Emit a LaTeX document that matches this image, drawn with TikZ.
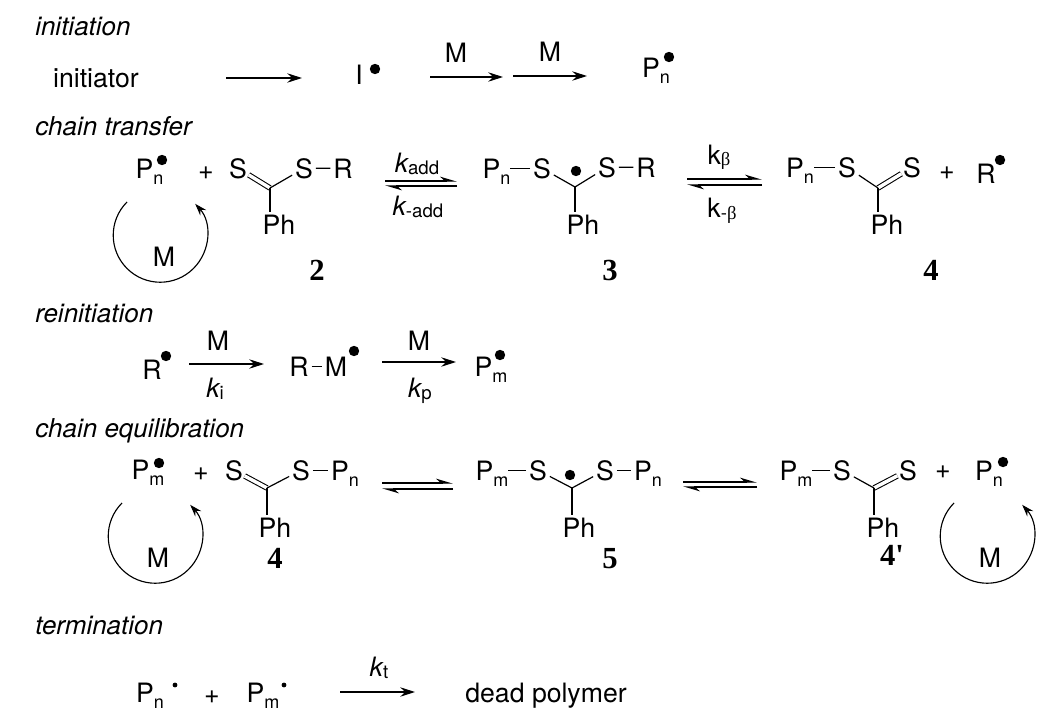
\documentclass[tikz,border=0pt]{standalone}
\usepackage{fontspec}
\setmainfont{TeX Gyre Heros}
\newfontfamily\numfont{Liberation Serif}
\usetikzlibrary{arrows.meta}
\newcommand{\subs}[1]{\raisebox{-4.5pt}{\fontsize{13.5pt}{13.5pt}\selectfont #1}}
\newcommand{\rsub}[1]{\raisebox{-1.5pt}{\fontsize{14pt}{14pt}\selectfont #1}}
\begin{document}
\begin{tikzpicture}[x=.75pt,y=-.75pt,
    every node/.style={font=\fontsize{20pt}{20pt}\selectfont,inner sep=2pt,anchor=base},
    lbl/.style={font=\fontsize{19.5pt}{19.5pt}\selectfont\itshape,anchor=base west,inner sep=0pt},
    num/.style={font=\fontsize{23pt}{23pt}\selectfont\numfont\bfseries},
    rad/.style={circle,fill,anchor=center,inner sep=0pt,minimum size=7.8pt},
    srad/.style={circle,fill,anchor=center,inner sep=0pt,minimum size=3.6pt},
    bond/.style={line width=.9pt},
    pbond/.style={bond,shorten >=-2.5pt},
    dbl/.style={double,double distance=2.6pt,line width=.8pt,shorten <=-1pt},
    rxn/.style={line width=1pt,-{Stealth[length=11pt,width=7pt]}},
    eq/.style={line width=1pt,-{Stealth[harpoon,length=11pt,width=6.5pt]}},
    cyc/.style={line width=.85pt,-{Stealth[length=9pt,width=6pt]}}]
    \useasboundingbox (0,0) rectangle (1043,724);
    % section titles
    \node (t1) at (35,36) [lbl] {initiation};
    \node (t2) at (35,136) [lbl] {chain transfer};
    \node (t3) at (35,322) [lbl] {reinitiation};
    \node (t4) at (35,437) [lbl] {chain equilibration};
    \node (t5) at (35,634) [lbl] {termination};
    % initiation
    \node (ini) at (96,88) {initiator}; \node (i) at (359,85) {I};
    \node (id) at (375,69) [rad] {};
    \node (m1) at (456,63) {M}; \node (m2) at (550,62) {M};
    \node (p1) at (656,78) {P\subs{n}}; \node (p1d) at (669,57) [rad] {};
    \coordinate (a1) at (226,78); \coordinate (a2) at (302,78);
    \coordinate (a3) at (430,77); \coordinate (a4) at (503,77);
    \coordinate (a5) at (513,76); \coordinate (a6) at (587,76);
    \draw[rxn] (a1) -- (a2); \draw[rxn] (a3) -- (a4); \draw[rxn] (a5) -- (a6);
    % chain transfer
    \node (p2) at (149.5,178) {P\subs{n}}; \node (p2d) at (162,160) [rad] {};
    \node (pl1) at (206,180) {+};
    \node (s1) at (238,178) {S}; \node (s2) at (304,178) {S};
    \node (r1) at (343,178) {R}; \node (ph1) at (279,234) {Ph};
    \coordinate (c1) at (270,188);
    \draw[dbl] (s1) -- (c1); \draw[bond] (s2) -- (c1);
    \draw[bond] (s2) -- (r1); \draw[bond] (c1) -- (c1 |- ph1.north);
    \node (n2) at (317,280) [num] {2};
    \coordinate (l1) at (127,202); \node (mc1) at (164,266) {M};
    \draw[cyc] (l1) arc[start angle=-135,end angle=-402,radius=47];
    \node (k1) at (417,172) {\itshape k\rsub{\upshape add}};
    \node (k2) at (418,215) {\itshape k\rsub{\upshape -add}};
    \coordinate (e1) at (385,181); \coordinate (e2) at (457,181);
    \coordinate (e3) at (457,186); \coordinate (e4) at (385,186);
    \draw[eq] (e1) -- (e2); \draw[eq] (e3) -- (e4);
    \node (p3) at (496.5,178) {P\subs{n}};
    \node (s3) at (542,178) {S}; \node (s4) at (607,177) {S};
    \node (r2) at (646,177) {R}; \node (ph2) at (583,234) {Ph};
    \node (rd1) at (576,171) [rad] {}; \coordinate (c2) at (575,187);
    \draw[pbond] (s3.west) -- (s3.west -| p3.east);
    \draw[bond] (s3) -- (c2); \draw[bond] (s4) -- (c2);
    \draw[bond] (s4) -- (r2); \draw[bond] (c2) -- (c2 |- ph2.north);
    \node (n3) at (610,280) [num] {3};
    \node (k3) at (719,164) {k\rsub{\numfont β}};
    \node (k4) at (722,217) {k\rsub{-\numfont β}};
    \coordinate (e5) at (687,179); \coordinate (e6) at (762,179);
    \coordinate (e7) at (762,185); \coordinate (e8) at (687,185);
    \draw[eq] (e5) -- (e6); \draw[eq] (e7) -- (e8);
    \node (p4) at (800,177) {P\subs{n}};
    \node (s5) at (847,177) {S}; \node (s6) at (912,177) {S};
    \node (ph3) at (887,234) {Ph}; \coordinate (c3) at (878,188);
    \draw[dbl] (s6) -- (c3); \draw[bond] (s5) -- (c3);
    \draw[pbond] (s5.west) -- (s5.west -| p4.east);
    \draw[bond] (c3) -- (c3 |- ph3.north);
    \node (pl2) at (947,180) {+}; \node (r3) at (986,183) {R};
    \node (r3d) at (1000,160) [rad] {};
    \node (n4) at (931,280) [num] {4};
    % reinitiation
    \node (r4) at (152,379) {R}; \node (r4d) at (166,356) [rad] {};
    \node (m3) at (218,350) {M}; \node (k5) at (215,397) {\itshape k\rsub{\upshape i}};
    \coordinate (a7) at (189,364); \coordinate (a8) at (264,364);
    \draw[rxn] (a7) -- (a8);
    \node (r5) at (299,376) {R}; \node (m4) at (336,376) {M};
    \node (m4d) at (354,351) [rad] {};
    \draw[bond] (r5) -- (m4);
    \node (m5) at (419,350) {M}; \node (k6) at (420,397) {\itshape k\rsub{\upshape p}};
    \coordinate (a9) at (382,362); \coordinate (a10) at (456,362);
    \draw[rxn] (a9) -- (a10);
    \node (p5) at (491,376) {P\subs{m}}; \node (p5d) at (500,355) [rad] {};
    % chain equilibration
    \node (p6) at (148,479) {P\subs{m}}; \node (p6d) at (159,463) [rad] {};
    \node (pl3) at (201,480) {+};
    \node (s7) at (234,480) {S}; \node (s8) at (301,480) {S};
    \node (p7) at (345,480) {P\subs{n}}; \node (ph4) at (275,537) {Ph};
    \coordinate (c4) at (267,488);
    \draw[dbl] (s7) -- (c4); \draw[bond] (s8) -- (c4);
    \draw[bond] (s8.east) -- (s8.east -| p7.west);
    \draw[bond] (c4) -- (c4 |- ph4.north);
    \node (n5) at (275,568) [num] {4};
    \coordinate (l2) at (122,503); \node (mc2) at (158,567) {M};
    \draw[cyc] (l2) arc[start angle=-135,end angle=-402,radius=47];
    \coordinate (e9) at (382,483); \coordinate (e10) at (453,483);
    \coordinate (e11) at (453,489); \coordinate (e12) at (382,489);
    \draw[eq] (e9) -- (e10); \draw[eq] (e11) -- (e12);
    \node (p8) at (492,480) {P\subs{m}};
    \node (s9) at (538,480) {S}; \node (s10) at (605,480) {S};
    \node (p9) at (648,480) {P\subs{n}}; \node (ph5) at (579,537) {Ph};
    \node (rd2) at (570,475) [rad] {}; \coordinate (c5) at (572,488);
    \draw[pbond] (s9.west) -- (s9.west -| p8.east);
    \draw[bond] (s9) -- (c5); \draw[bond] (s10) -- (c5);
    \draw[bond] (s10.east) -- (s10.east -| p9.west);
    \draw[bond] (c5) -- (c5 |- ph5.north);
    \node (n6) at (610,568) [num] {5};
    \coordinate (e13) at (683,482); \coordinate (e14) at (757,482);
    \coordinate (e15) at (757,487); \coordinate (e16) at (683,487);
    \draw[eq] (e13) -- (e14); \draw[eq] (e15) -- (e16);
    \node (p10) at (796,480) {P\subs{m}};
    \node (s11) at (842,480) {S}; \node (s12) at (908,480) {S};
    \node (ph6) at (883,537) {Ph}; \coordinate (c6) at (874,488);
    \draw[dbl] (s12) -- (c6); \draw[bond] (s11) -- (c6);
    \draw[pbond] (s11.west) -- (s11.west -| p10.east);
    \draw[bond] (c6) -- (c6 |- ph6.north);
    \node (n7) at (892,565) [num] {4'};
    \node (pl4) at (943,478) {+};
    \node (p11) at (989,480) {P\subs{n}}; \node (p11d) at (1003,462) [rad] {};
    \coordinate (l3) at (954,503); \node (mc3) at (990,567) {M};
    \draw[cyc] (l3) arc[start angle=-135,end angle=-402,radius=47];
    % termination
    \node (p12) at (150,702) {P\subs{n}}; \node (p12d) at (175,685) [srad] {};
    \node (pl5) at (212,703) {+};
    \node (p13) at (263,702) {P\subs{m}}; \node (p13d) at (284,685) [srad] {};
    \node (k7) at (379,676) {\itshape k\rsub{\upshape t}};
    \coordinate (a11) at (340,692); \coordinate (a12) at (415,692);
    \draw[rxn] (a11) -- (a12);
    \node (dp) at (546,702) {dead polymer};
\end{tikzpicture}
\end{document}
